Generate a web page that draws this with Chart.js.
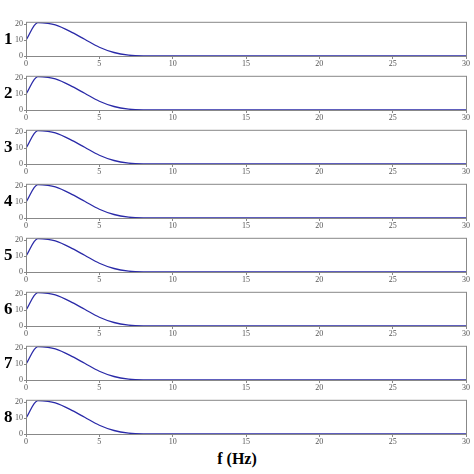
<!DOCTYPE html>
<html><head><meta charset="utf-8">
<script src="https://cdn.jsdelivr.net/npm/chart.js@4"></script>
<style>
body{margin:0;background:#fff;width:474px;height:474px;position:relative;overflow:hidden;font-family:"Liberation Serif",serif}
.p{position:absolute;left:0}
.n{position:absolute;left:4px;font-weight:bold;font-size:17px}
#xl{position:absolute;left:0;width:474px;top:450px;text-align:center;font-weight:bold;font-size:16px}
</style></head><body>
<div id="xl">f (Hz)</div>
<script>
// 주파수 축과 스펙트럼 값
var freqs = [0, 0.8, 1.5, 2, 3, 4, 5, 6, 7, 8, 10, 15, 20, 25, 30];
var spectrum = [10, 21, 20.5, 19.5, 15.5, 10.5, 5.5, 2.2, 0.6, 0.1, 0, 0, 0, 0, 0];
var panels = ['1','2','3','4','5','6','7','8'];
var xTicks = [0, 5, 10, 15, 20, 25, 30];
var yTicks = [0, 10, 20];

var box = {id:'box', afterDraw:function(c){
  var a=c.chartArea, g=c.ctx;
  g.save(); g.strokeStyle='#888'; g.lineWidth=1;
  g.strokeRect(a.left+0.5,a.top+0.5,a.right-a.left,a.bottom-a.top); g.restore();
}};

panels.forEach(function(lbl,i){
  var top = 16 + 54*i;
  var cv = document.createElement('canvas');
  cv.className='p'; cv.style.top=top+'px';
  cv.width=474; cv.height=52;
  cv.style.width='474px'; cv.style.height='52px';
  document.body.appendChild(cv);
  var n = document.createElement('div');
  n.className='n'; n.textContent=lbl; n.style.top=(top+13)+'px';
  document.body.appendChild(n);
  new Chart(cv, {
    type:'line',
    data:{datasets:[{data:freqs.map(function(f,k){return {x:f,y:spectrum[k]};}),
      borderColor:'#2a2aa8', borderWidth:1.3, pointRadius:0, cubicInterpolationMode:'monotone'}]},
    options:{
      responsive:false, animation:false, devicePixelRatio:1,
      layout:{padding:{top:2,right:8,left:0,bottom:0}},
      plugins:{legend:{display:false},tooltip:{enabled:false}},
      scales:{
        x:{type:'linear',min:0,max:30,
          afterBuildTicks:function(s){s.ticks=xTicks.map(function(v){return {value:v};});},
          afterFit:function(s){s.height=12;},
          border:{display:false},
          grid:{drawOnChartArea:false,tickLength:3,color:'#888'},
          ticks:{padding:0,color:'#555',font:{family:'Liberation Serif',size:8},maxRotation:0}},
        y:{min:0,max:21.5,
          afterBuildTicks:function(s){s.ticks=yTicks.map(function(v){return {value:v};});},
          afterFit:function(s){s.width=26;},
          border:{display:false},
          grid:{drawOnChartArea:false,tickLength:2,color:'#888'},
          ticks:{padding:1,color:'#555',font:{family:'Liberation Serif',size:8}}}
      }
    },
    plugins:[box]
  });
});
</script>
</body></html>
